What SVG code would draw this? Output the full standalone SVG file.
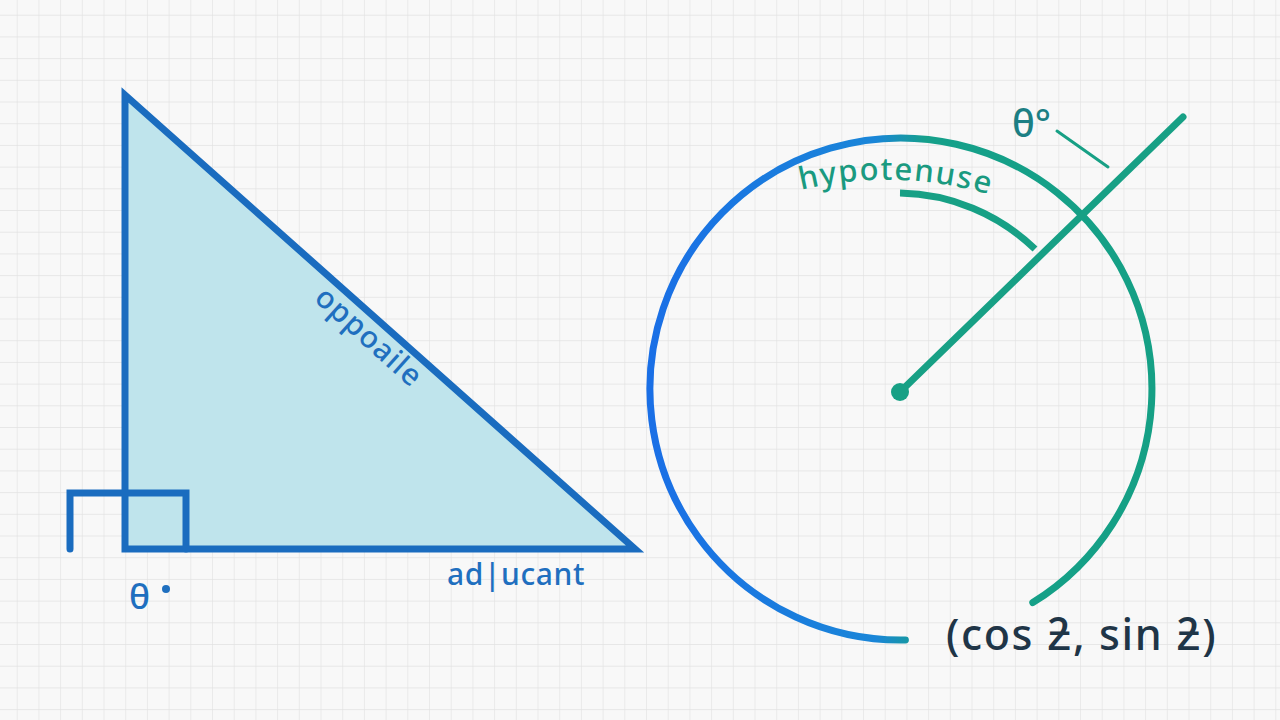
<svg xmlns="http://www.w3.org/2000/svg" width="1280" height="720" viewBox="0 0 1280 720">
<style>
.lbl{font-family:"Noto Sans","DejaVu Sans",sans-serif;font-weight:500;}
.blue{fill:#1f6fbf;}
.teal{fill:#17a085;}
</style>
<defs>
<pattern id="grid" x="-4" y="-6" width="21.7" height="21.7" patternUnits="userSpaceOnUse">
<path d="M21.7 0 V21.7 M0 21.7 H21.7" fill="none" stroke="#e2e2e2" stroke-width="1.3"/>
</pattern>
<linearGradient id="ring" x1="650" y1="0" x2="1152" y2="0" gradientUnits="userSpaceOnUse">
<stop offset="0" stop-color="#1a6fe6"/>
<stop offset="0.45" stop-color="#1a86d8"/>
<stop offset="0.55" stop-color="#15a08a"/>
<stop offset="1" stop-color="#15a085"/>
</linearGradient>
</defs>
<rect width="1280" height="720" fill="#f8f8f8"/>
<rect width="1280" height="720" fill="url(#grid)"/>

<g id="triangle">
<polygon points="125,95 125,549 635,549" fill="#bfe4ec" stroke="#1a6cbf" stroke-width="7" stroke-linejoin="miter"/>
<polyline points="70,549 70,493 186,493 186,549" fill="none" stroke="#1a6cbf" stroke-width="7" stroke-linecap="round"/>
<text class="lbl blue" x="0" y="0" font-size="30" letter-spacing="1" transform="translate(313,300) rotate(42)">oppoaile</text>
<text class="lbl blue" x="447" y="585" font-size="30" letter-spacing="0.6">ad|ucant</text>
<text class="lbl blue" x="129" y="609" font-size="35">θ</text>
<circle cx="166" cy="589" r="4" fill="#1f6fbf"/>
</g>

<g id="circle">
<path d="M 905.4 640 A 251 251 0 1 1 1032.8 602.6" fill="none" stroke="url(#ring)" stroke-width="7" stroke-linecap="round"/>
<path d="M 900 193 A 199 199 0 0 1 1035 249" fill="none" stroke="#17a085" stroke-width="7" stroke-linecap="butt"/>
<text class="lbl" fill="#1a9a80" font-size="31" letter-spacing="1.6"><textPath href="#hypPath">hypotenuse</textPath></text>
<path id="hypPath" d="M 801 190 Q 900 166 1000 198" fill="none" stroke="none"/>
</g>

<g id="connectors">
<line x1="900" y1="392" x2="1183" y2="117" stroke="#17a085" stroke-width="7" stroke-linecap="round"/>
<circle cx="900" cy="392" r="9" fill="#17a085"/>
<line x1="1057" y1="131" x2="1108" y2="167" stroke="#17a085" stroke-width="3" stroke-linecap="round"/>
</g>

<g id="labels">
<text class="lbl" x="1012" y="137" font-size="38" fill="#1c7f84">θ°</text>
<text class="lbl" x="946" y="650" font-size="43" letter-spacing="1.6" fill="#1f3547">(cos ƻ, sin ƻ)</text>
</g>
</svg>
